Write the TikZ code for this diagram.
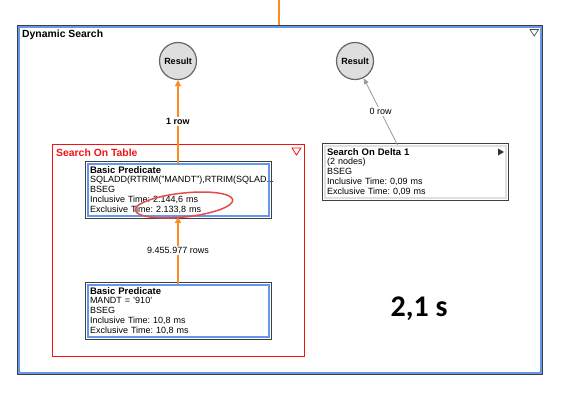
\documentclass[tikz,border=0pt]{standalone}
\usepackage{fontspec}
\setmainfont{Liberation Sans}
\newfontfamily\calibri{Carlito}
\usepackage{tikz}
\usetikzlibrary{arrows.meta}

\definecolor{rahmenblau}{RGB}{100,150,240}
\definecolor{pfeilorange}{RGB}{255,140,30}
\definecolor{kreisgrau}{RGB}{222,222,222}
\definecolor{tabellenrot}{RGB}{240,20,20}
\definecolor{kringelrot}{RGB}{230,75,75}

\frenchspacing

\begin{document}
\begin{tikzpicture}[x=1pt, y=-1pt,
	ergebnis/.style={circle, draw=black!60, line width=1.2pt, fill=kreisgrau, minimum size=37pt, inner sep=0pt, font=\bfseries\fontsize{9}{10}\selectfont},
	kasten/.style={rectangle, draw=rahmenblau, line width=2pt, fill=white, minimum width=181pt, minimum height=52pt, text width=177pt, inner sep=2pt, align=left, font=\fontsize{9}{9.9}\selectfont},
	deltakasten/.style={kasten, draw=black!12},
	titel/.style={anchor=west, inner sep=0pt, font=\bfseries\fontsize{10.4}{12}\selectfont},
	fluss/.style={draw=pfeilorange, line width=2.5pt, -{Triangle[length=6pt, width=6pt]}},
	leer/.style={draw=black!40, line width=0.8pt, -{Triangle[length=6pt, width=4.5pt]}},
	zeilen/.style={fill=white, inner sep=1.5pt, font=\fontsize{9}{10}\selectfont}]
%\draw [lightgray](0,0) grid (564,400);
\useasboundingbox (0,0) rectangle (564,400);

	% Zeichnet die orange Zuleitung von oben
	\coordinate (zulauf) at (279,0);
	\coordinate (zulauf_ende) at (279,25);
	\draw[pfeilorange, line width=2pt] (zulauf) -- (zulauf_ende);

	% Zeichnet den aeusseren Rahmen (Dynamic Search)
	\draw[rahmenblau, line width=2pt] (18.5,26.5) rectangle (540.5,372.5);
	\draw[black!75, line width=0.8pt] (17,25) rectangle (542,374);
	\node[titel] (dynamic) at (22,35) {Dynamic Search};
	\draw[black!70, line width=0.7pt, fill=white] (530,29.5) -- (538.5,29.5) -- (534.25,36) -- cycle;

	% Zeichnet den roten Rahmen (Search On Table)
	\draw[tabellenrot, line width=1.5pt] (52.5,144.5) rectangle (304.5,356.5);
	\node[titel, tabellenrot] (table) at (56,153) {Search On Table};
	\draw[tabellenrot, line width=0.8pt, fill=white] (292,148) -- (301,148) -- (296.5,155) -- cycle;

	% Zeichnet die beiden Ergebnis-Kreise
	\node[ergebnis] (res1) at (178,61) {Result};
	\node[ergebnis] (res2) at (355,61) {Result};

	% Zeichnet Kasten 1 (oberes Basic Predicate)
	\node[kasten] (praed1) at (178.5,190) {{\bfseries\fontsize{9.5}{10}\selectfont Basic Predicate}\\
		SQLADD(RTRIM("MANDT"),RTRIM(SQLAD...\\
		BSEG\\
		Inclusive Time: 2.144,6 ms\\
		Exclusive Time: 2.133,8 ms};

	% Zeichnet Kasten 2 (unteres Basic Predicate)
	\node[kasten] (praed2) at (178.5,311) {{\bfseries\fontsize{9.5}{10}\selectfont Basic Predicate}\\
		MANDT = '910'\\
		BSEG\\
		Inclusive Time: 10,8 ms\\
		Exclusive Time: 10,8 ms};

	% Zeichnet Kasten 3 (Search On Delta 1)
	\node[deltakasten] (delta) at (415.5,172) {{\bfseries\fontsize{9.5}{10}\selectfont Search On Delta 1}\\
		(2 nodes)\\
		BSEG\\
		Inclusive Time: 0,09 ms\\
		Exclusive Time: 0,09 ms};
	\fill[black!80] (498,148.5) -- (504,152) -- (498,155.5) -- cycle;

	% Dunkle Aussenlinie um die Kaesten
	\foreach \k in {praed1, praed2, delta}
		\draw[black!75, line width=0.8pt] ([shift={(-1.6pt,1.6pt)}]\k.north west) rectangle ([shift={(1.6pt,-1.6pt)}]\k.south east);

	% Zeichnet Pfeil 1 (von Kasten 2 zu Kasten 1)
	\draw[fluss] (praed2.north -| 178,0) -- (praed1.south -| 178,0) node[midway, zeilen] {9.455.977 rows};

	% Zeichnet Pfeil 2 (von Kasten 1 zum Ergebnis)
	\draw[fluss] (praed1.north -| res1) -- (res1.south) node[midway, zeilen, font=\bfseries\fontsize{9}{10}\selectfont] {1 row};

	% Zeichnet Pfeil 3 (von Search On Delta zum Ergebnis)
	\coordinate (delta_aus) at ([xshift=-18pt]delta.north);
	\draw[leer] (delta_aus) -- (res2) node[midway, zeilen] {0 row};

	% Markiert die Zeiten mit einem roten Kringel
	\draw[kringelrot, line width=1.5pt, rotate around={6:(184,205)}] (184,205) ellipse [x radius=49, y radius=12];

	% Gesamtzeit
	\node[font=\calibri\bfseries\fontsize{30}{32}\selectfont] (zeit) at (419,309) {2,1 s};

\end{tikzpicture}
\end{document}
